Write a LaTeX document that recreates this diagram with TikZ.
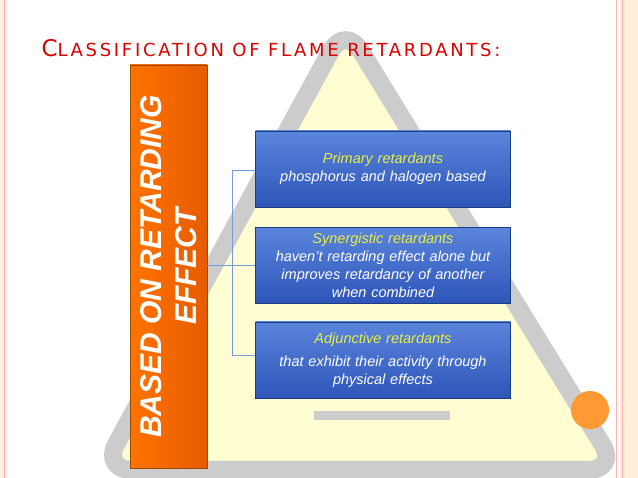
\documentclass[tikz,border=0pt]{standalone}
\usepackage{fontspec}
\setmainfont{Liberation Sans}
\newfontfamily\titlefont[LetterSpace=15]{DejaVu Sans}
\definecolor{bbox}{HTML}{3E6FD6}
\definecolor{bboxd}{HTML}{2E55B8}
\definecolor{ylab}{HTML}{E8F040}
\begin{document}
\begin{tikzpicture}[x=1pt,y=-1pt,
  box/.style={draw=bboxd!70!black,line width=0.8pt,top color=bbox!85!white,bottom color=bboxd,minimum width=250pt,text width=248pt,align=center,font=\itshape\fontsize{14.5}{18}\selectfont,text=white},
  conn/.style={draw=bbox!70!white,line width=0.9pt}]
\useasboundingbox (0,0) rectangle (638,478);
\fill[white] (0,0) rectangle (638,478);
\fill[orange!10] (0,0) rectangle (8,478);
\draw[red!30,line width=1pt] (4,0) -- (4,478);
\fill[orange!15] (620,0) rectangle (638,478);
\draw[red!30,line width=1pt] (616,0) -- (616,478) (622,0)--(622,478);
% triangle background
\fill[yellow!18,rounded corners=30pt] (345,25) -- (618,470) -- (102,470) -- cycle;
\draw[gray!40,line width=18pt,rounded corners=30pt] (345,25) -- (618,470) -- (102,470) -- cycle;
\fill[gray!40] (314,411) rectangle (450,420);
\fill[orange!80] (590,410) circle (19);
\node[anchor=base west,text=red!85!black,font=\titlefont\fontsize{18}{20}\selectfont] (title) at (38,57) {{\fontsize{23}{24}\selectfont C}LASSIFICATION OF FLAME RETARDANTS:};
\node[minimum width=77pt,minimum height=403pt,left color=orange!90!red,right color=orange!80!red!90!black,draw=orange!60!black,line width=0.6pt] (bar) at (168.5,266.5) {};
\node[rotate=90,align=center,text=white,font=\bfseries\itshape\fontsize{30}{35}\selectfont] at (bar.center) {BASED ON RETARDING\\EFFECT};
\node[box,minimum height=76pt] (b1) at (383,169) {{\color{ylab}Primary retardants}\\phosphorus and halogen based};
\node[box,minimum height=76pt] (b2) at (383,265.5) {{\color{ylab}Synergistic retardants}\\haven’t retarding effect alone but\\improves retardancy of another\\when combined};
\node[box,minimum height=76pt] (b3) at (383,360) {{\color{ylab}Adjunctive retardants}\\[5pt]that exhibit their activity through\\physical effects};
\coordinate (j1) at (232,170);
\coordinate (j3) at (232,355);
\draw[conn] (bar.east |- b2.west) -- (b2.west);
\draw[conn] (b1.west |- j1) -- (j1) -- (j3) -- (b3.west |- j3);
\end{tikzpicture}
\end{document}
